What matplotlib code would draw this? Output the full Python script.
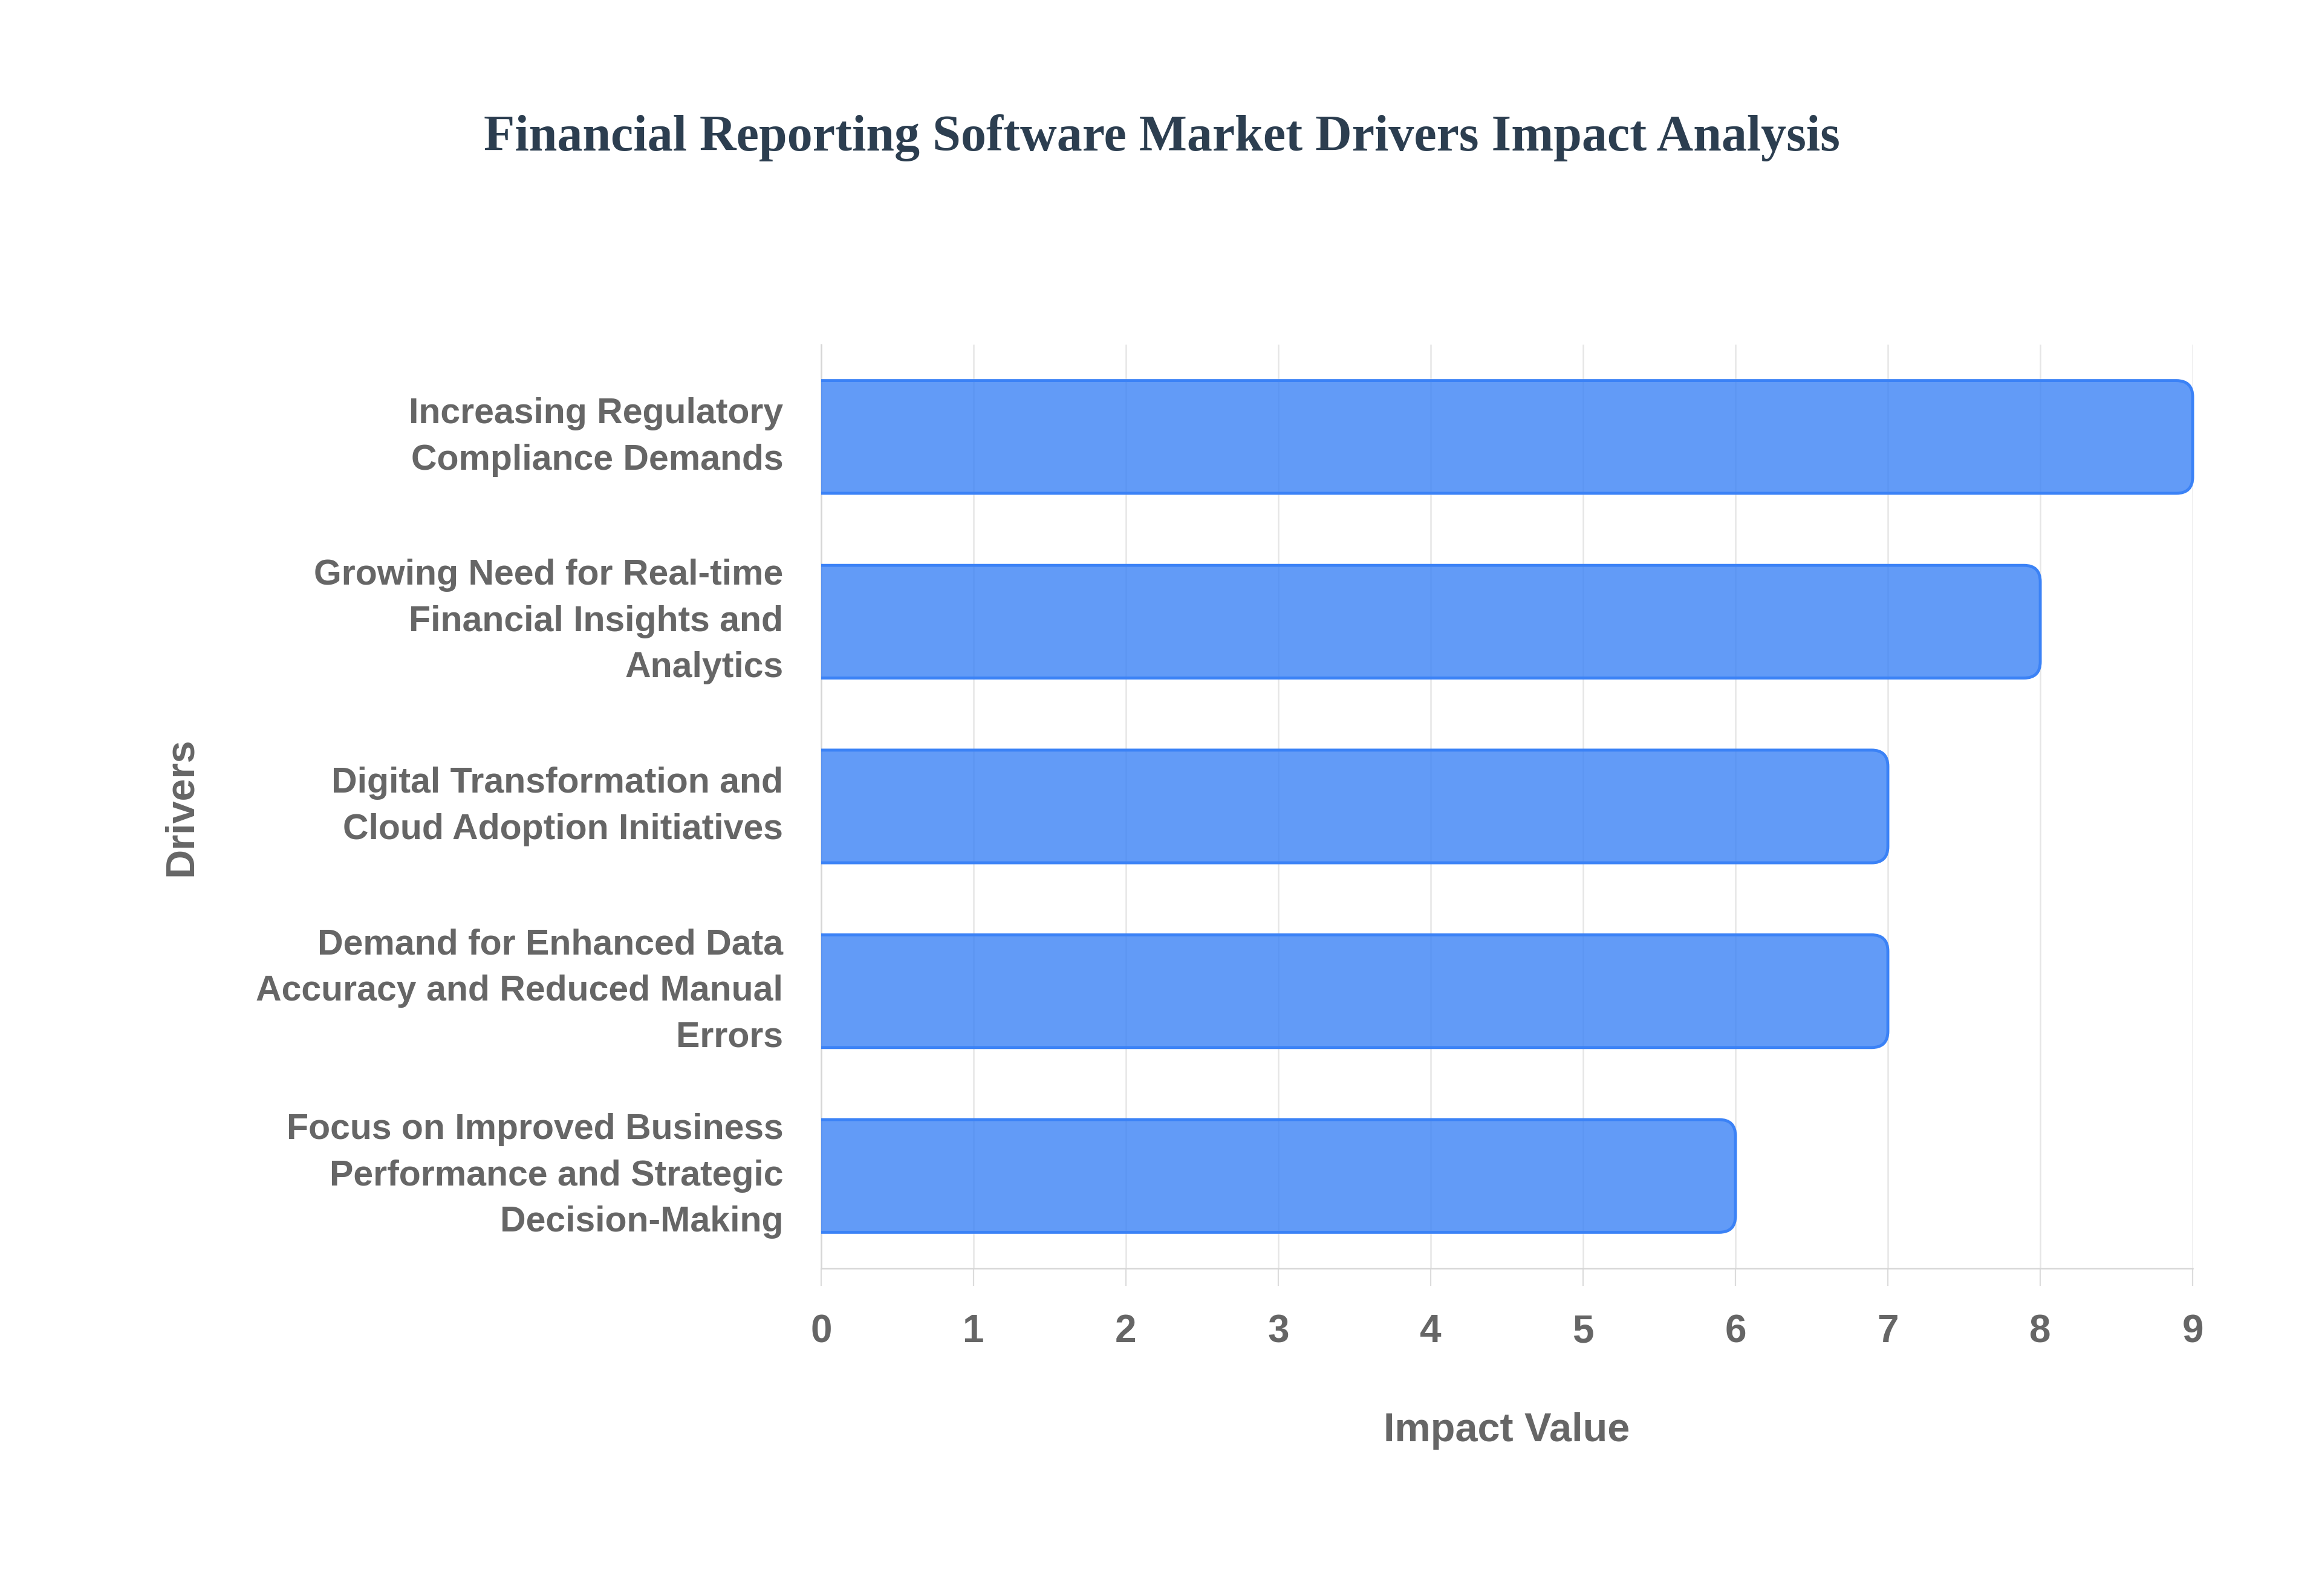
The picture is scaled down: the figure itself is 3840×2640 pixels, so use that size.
import numpy as np
import matplotlib
matplotlib.use("Agg")
import matplotlib.pyplot as plt
from matplotlib.patches import FancyBboxPatch, Rectangle

# data
drivers = [
    "Increasing Regulatory\nCompliance Demands",
    "Growing Need for Real-time\nFinancial Insights and\nAnalytics",
    "Digital Transformation and\nCloud Adoption Initiatives",
    "Demand for Enhanced Data\nAccuracy and Reduced Manual\nErrors",
    "Focus on Improved Business\nPerformance and Strategic\nDecision-Making",
]
impact = [9, 8, 7, 7, 6]
x_ticks = [0, 1, 2, 3, 4, 5, 6, 7, 8, 9]

title = "Financial Reporting Software Market Drivers Impact Analysis"
gray_txt = "#666666"
bar_fill = (59 / 255, 130 / 255, 246 / 255, 0.8)
bar_edge = "#3B82F6"

fig = plt.figure(figsize=(38.4, 26.4), dpi=100)
fig.patch.set_facecolor("white")
ax = fig.add_axes([0.3536, 0.2053, 0.5907, 0.5788])

n = len(drivers)
ypos = np.arange(n)
bar_h = 0.61

ax.set_xlim(0, 9)
ax.set_ylim(n - 0.5, -0.5)

# pixel size of one data unit, used to make round corners look circular
bw = ax.get_position().width * fig.get_figwidth() * fig.dpi
bh = ax.get_position().height * fig.get_figheight() * fig.dpi
xppu = bw / 9.0
yppu = bh / n
asp = xppu / yppu
rad = 27 / xppu

clip = Rectangle((0, -0.5), 9.3, n, transform=ax.transData)
for y, v in zip(ypos, impact):
    p = FancyBboxPatch((-0.4, y - bar_h / 2), v + 0.4, bar_h,
                       boxstyle=f"round,pad=0,rounding_size={rad}",
                       mutation_aspect=asp,
                       facecolor=bar_fill, edgecolor=bar_edge,
                       linewidth=3.5, zorder=3)
    ax.add_patch(p)
    p.set_clip_path(clip)

ax.set_xticks(x_ticks)
ax.set_xticklabels([str(t) for t in x_ticks])
ax.set_yticks(ypos)
ax.set_yticklabels(drivers, ha="right", va="center", linespacing=1.5)

for lab in ax.get_xticklabels():
    lab.set_fontfamily("Liberation Sans")
    lab.set_fontweight("bold")
    lab.set_fontsize(46)
    lab.set_color(gray_txt)
for lab in ax.get_yticklabels():
    lab.set_fontfamily("Liberation Sans")
    lab.set_fontweight("bold")
    lab.set_fontsize(42.5)
    lab.set_color(gray_txt)

ax.tick_params(axis="x", length=21, width=1.6, color="#dcdcdc", pad=33)
ax.tick_params(axis="y", length=0, pad=45)

ax.grid(axis="x", color="#e6e6e6", linewidth=1.8, zorder=0)
ax.set_axisbelow(True)
for s in ["top", "right"]:
    ax.spines[s].set_visible(False)
for s in ["left", "bottom"]:
    ax.spines[s].set_color("#d6d6d6")
    ax.spines[s].set_linewidth(1.8)

ax.set_xlabel("Impact Value", fontsize=48, fontweight="bold",
              color=gray_txt, family="Liberation Sans", va="center")
ax.set_ylabel("Drivers", fontsize=48, fontweight="bold",
              color=gray_txt, family="Liberation Sans", va="center")
ax.yaxis.set_label_coords(-0.4665, 0.5)
ax.xaxis.set_label_coords(0.5, -0.176)

fig.text(0.5005, 0.9136, title, ha="center", va="center",
         fontsize=60.5, fontweight="bold", color="#2C3E50",
         family="Liberation Serif")

fig.savefig("out.png", dpi=100, facecolor="white")
